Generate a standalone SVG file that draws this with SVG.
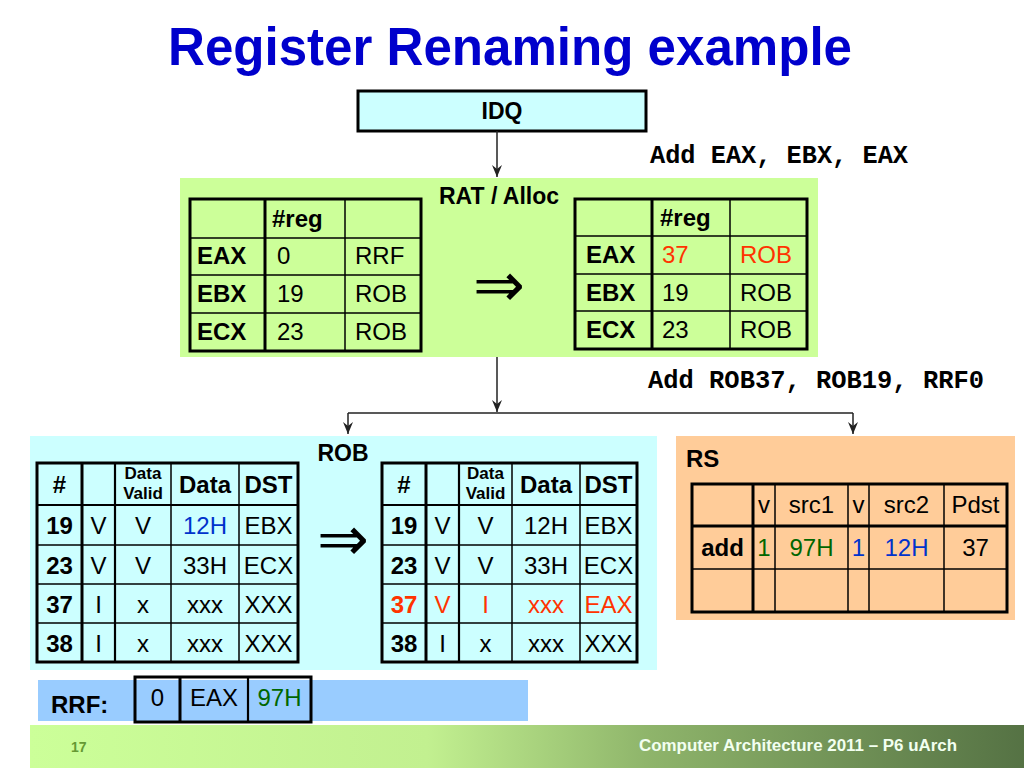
<svg xmlns="http://www.w3.org/2000/svg" width="1024" height="768" viewBox="0 0 1024 768">
<defs>
<style>
.t{font-family:"Liberation Sans",Arial,sans-serif;font-size:24px;fill:#000}
.b{font-weight:bold}
.m{text-anchor:middle}
.mono{font-family:"Liberation Mono","Courier New",monospace;font-weight:bold;font-size:25px;fill:#000}
.frame{fill:none;stroke:#000;stroke-width:3}
.g1{stroke:#000;stroke-width:1.5}
.g2{stroke:#000;stroke-width:2.2}
.g3{stroke:#000;stroke-width:3}
.red{fill:#ff3300}
.blue{fill:#0033cc}
.green{fill:#006600}
.sym{font-family:"DejaVu Sans",sans-serif;font-size:62px;text-anchor:middle;fill:#000}
.conn{stroke:#222;stroke-width:1.5;fill:none}
</style>
<marker id="ah" markerUnits="userSpaceOnUse" markerWidth="12" markerHeight="10" refX="12" refY="5" orient="auto" viewBox="0 0 12 10">
<path d="M0,0 L12,5 L0,10 L4,5 z" fill="#222"/>
</marker>
<linearGradient id="foot" x1="0" y1="0" x2="1" y2="0">
<stop offset="0" stop-color="#ccff99"/>
<stop offset="0.4" stop-color="#c2f090"/>
<stop offset="0.62" stop-color="#8fb56b"/>
<stop offset="1" stop-color="#557244"/>
</linearGradient>
</defs>
<rect width="1024" height="768" fill="#ffffff"/>

<g id="title">
<text x="168" y="65" class="t b" style="font-size:53px;fill:#0000cc" textLength="684" lengthAdjust="spacingAndGlyphs">Register Renaming example</text>
</g>

<g id="idq">
<rect x="358" y="91" width="288" height="40" style="fill:#ccffff;stroke:#000;stroke-width:3"/>
<text x="502" y="119" class="t b m" style="font-size:23px">IDQ</text>
</g>

<g id="instr1">
<text x="650" y="163" class="mono" textLength="258" lengthAdjust="spacingAndGlyphs">Add EAX, EBX, EAX</text>
</g>

<g id="rat">
<rect x="180" y="178" width="638" height="179" fill="#ccff99"/>
<text x="499" y="204" class="t b m" style="font-size:23px">RAT / Alloc</text>
<g id="rat-before">
<rect x="190" y="199" width="231" height="152" class="frame"/>
<line x1="265" y1="199" x2="265" y2="351" class="g3"/>
<line x1="345" y1="199" x2="345" y2="351" class="g1"/>
<line x1="190" y1="238" x2="421" y2="238" class="g1"/>
<line x1="190" y1="275" x2="421" y2="275" class="g1"/>
<line x1="190" y1="313" x2="421" y2="313" class="g1"/>
<text x="272" y="227" class="t b">#reg</text>
<text x="197" y="264" class="t b">EAX</text><text x="277" y="264" class="t">0</text><text x="355" y="264" class="t">RRF</text>
<text x="197" y="302" class="t b">EBX</text><text x="277" y="302" class="t">19</text><text x="355" y="302" class="t">ROB</text>
<text x="197" y="340" class="t b">ECX</text><text x="277" y="340" class="t">23</text><text x="355" y="340" class="t">ROB</text>
</g>
<text x="499" y="306" class="sym">⇒</text>
<g id="rat-after">
<rect x="575" y="199" width="232" height="150" class="frame"/>
<line x1="652" y1="199" x2="652" y2="349" class="g3"/>
<line x1="730" y1="199" x2="730" y2="349" class="g1"/>
<line x1="575" y1="236" x2="807" y2="236" class="g1"/>
<line x1="575" y1="274" x2="807" y2="274" class="g1"/>
<line x1="575" y1="311" x2="807" y2="311" class="g1"/>
<text x="660" y="226" class="t b">#reg</text>
<text x="586" y="263" class="t b">EAX</text><text x="662" y="263" class="t red">37</text><text x="740" y="263" class="t red">ROB</text>
<text x="586" y="301" class="t b">EBX</text><text x="662" y="301" class="t">19</text><text x="740" y="301" class="t">ROB</text>
<text x="586" y="338" class="t b">ECX</text><text x="662" y="338" class="t">23</text><text x="740" y="338" class="t">ROB</text>
</g>
</g>

<g id="instr2">
<text x="648" y="388" class="mono" textLength="336" lengthAdjust="spacingAndGlyphs">Add ROB37, ROB19, RRF0</text>
</g>

<g id="rob">
<rect x="30" y="436" width="627" height="234" fill="#ccffff"/>
<text x="343" y="461" class="t b m" style="font-size:23px">ROB</text>
<g id="rob-before">
<rect x="37" y="463" width="261" height="199" class="frame"/>
<line x1="82" y1="463" x2="82" y2="662" class="g3"/>
<line x1="115" y1="463" x2="115" y2="662" class="g2"/>
<line x1="171" y1="463" x2="171" y2="662" class="g1"/>
<line x1="239" y1="463" x2="239" y2="662" class="g1"/>
<line x1="37" y1="505" x2="298" y2="505" class="g2"/>
<line x1="37" y1="545" x2="298" y2="545" class="g1"/>
<line x1="37" y1="584" x2="298" y2="584" class="g1"/>
<line x1="37" y1="623" x2="298" y2="623" class="g1"/>
<text x="59.5" y="493" class="t b m">#</text>
<text x="143" y="479" class="t b m" style="font-size:17px">Data</text>
<text x="143" y="499" class="t b m" style="font-size:17px">Valid</text>
<text x="205" y="493" class="t b m">Data</text>
<text x="268.5" y="493" class="t b m">DST</text>
<text x="59.5" y="534" class="t b m">19</text><text x="98.5" y="534" class="t m">V</text><text x="143" y="534" class="t m">V</text><text x="205" y="534" class="t m blue">12H</text><text x="268.5" y="534" class="t m">EBX</text>
<text x="59.5" y="573.5" class="t b m">23</text><text x="98.5" y="573.5" class="t m">V</text><text x="143" y="573.5" class="t m">V</text><text x="205" y="573.5" class="t m">33H</text><text x="268.5" y="573.5" class="t m">ECX</text>
<text x="59.5" y="612.5" class="t b m">37</text><text x="98.5" y="612.5" class="t m">I</text><text x="143" y="612.5" class="t m">x</text><text x="205" y="612.5" class="t m">xxx</text><text x="268.5" y="612.5" class="t m">XXX</text>
<text x="59.5" y="651.5" class="t b m">38</text><text x="98.5" y="651.5" class="t m">I</text><text x="143" y="651.5" class="t m">x</text><text x="205" y="651.5" class="t m">xxx</text><text x="268.5" y="651.5" class="t m">XXX</text>
</g>
<text x="343" y="560" class="sym">⇒</text>
<g id="rob-after">
<rect x="382" y="463" width="255" height="199" class="frame"/>
<line x1="426" y1="463" x2="426" y2="662" class="g3"/>
<line x1="459" y1="463" x2="459" y2="662" class="g2"/>
<line x1="512" y1="463" x2="512" y2="662" class="g1"/>
<line x1="580" y1="463" x2="580" y2="662" class="g1"/>
<line x1="382" y1="505" x2="637" y2="505" class="g2"/>
<line x1="382" y1="545" x2="637" y2="545" class="g1"/>
<line x1="382" y1="584" x2="637" y2="584" class="g1"/>
<line x1="382" y1="623" x2="637" y2="623" class="g1"/>
<text x="404" y="493" class="t b m">#</text>
<text x="485.5" y="479" class="t b m" style="font-size:17px">Data</text>
<text x="485.5" y="499" class="t b m" style="font-size:17px">Valid</text>
<text x="546" y="493" class="t b m">Data</text>
<text x="608.5" y="493" class="t b m">DST</text>
<text x="404" y="534" class="t b m">19</text><text x="442.5" y="534" class="t m">V</text><text x="485.5" y="534" class="t m">V</text><text x="546" y="534" class="t m">12H</text><text x="608.5" y="534" class="t m">EBX</text>
<text x="404" y="573.5" class="t b m">23</text><text x="442.5" y="573.5" class="t m">V</text><text x="485.5" y="573.5" class="t m">V</text><text x="546" y="573.5" class="t m">33H</text><text x="608.5" y="573.5" class="t m">ECX</text>
<text x="404" y="612.5" class="t b m red">37</text><text x="442.5" y="612.5" class="t m red">V</text><text x="485.5" y="612.5" class="t m red">I</text><text x="546" y="612.5" class="t m red">xxx</text><text x="608.5" y="612.5" class="t m red">EAX</text>
<text x="404" y="651.5" class="t b m">38</text><text x="442.5" y="651.5" class="t m">I</text><text x="485.5" y="651.5" class="t m">x</text><text x="546" y="651.5" class="t m">xxx</text><text x="608.5" y="651.5" class="t m">XXX</text>
</g>
</g>

<g id="rs">
<rect x="676" y="436" width="339" height="184" fill="#ffcc99"/>
<text x="686" y="467" class="t b">RS</text>
<rect x="692" y="484" width="315" height="128" class="frame"/>
<line x1="753" y1="484" x2="753" y2="612" class="g3"/>
<line x1="775" y1="484" x2="775" y2="612" class="g1"/>
<line x1="848" y1="484" x2="848" y2="612" class="g1"/>
<line x1="869" y1="484" x2="869" y2="612" class="g1"/>
<line x1="944" y1="484" x2="944" y2="612" class="g1"/>
<line x1="692" y1="526" x2="1007" y2="526" class="g3"/>
<line x1="692" y1="569" x2="1007" y2="569" class="g1"/>
<text x="764" y="513" class="t m">v</text>
<text x="811.5" y="513" class="t m">src1</text>
<text x="858.5" y="513" class="t m">v</text>
<text x="906.5" y="513" class="t m">src2</text>
<text x="975.5" y="513" class="t m">Pdst</text>
<text x="722.5" y="556" class="t b m">add</text>
<text x="764" y="556" class="t m green">1</text>
<text x="811.5" y="556" class="t m green">97H</text>
<text x="858.5" y="556" class="t m blue">1</text>
<text x="906.5" y="556" class="t m blue">12H</text>
<text x="975.5" y="556" class="t m">37</text>
</g>

<g id="rrf">
<rect x="38" y="680" width="490" height="41" fill="#99ccff"/>
<text x="51" y="713" class="t b">RRF:</text>
<rect x="135" y="677" width="176" height="45" class="frame"/>
<line x1="180" y1="677" x2="180" y2="722" class="g3"/>
<line x1="248" y1="677" x2="248" y2="722" class="g2"/>
<text x="157.5" y="706" class="t m">0</text>
<text x="214" y="706" class="t m">EAX</text>
<text x="279.5" y="706" class="t m green">97H</text>
</g>

<g id="connectors">
<path d="M497,131 V177" class="conn" marker-end="url(#ah)"/>
<path d="M497,357 V412" class="conn" marker-end="url(#ah)"/>
<path d="M348,413 H853" class="conn"/>
<path d="M348,413 V434" class="conn" marker-end="url(#ah)"/>
<path d="M853,413 V434" class="conn" marker-end="url(#ah)"/>
</g>

<g id="footer">
<rect x="30" y="725" width="994" height="43" fill="url(#foot)"/>
<text x="71" y="752" class="t b" style="font-size:14px;fill:#669933">17</text>
<text x="639" y="751" class="t b" style="font-size:16px;fill:#f2fff0" textLength="318" lengthAdjust="spacingAndGlyphs">Computer Architecture 2011 – P6 uArch</text>
</g>
</svg>
